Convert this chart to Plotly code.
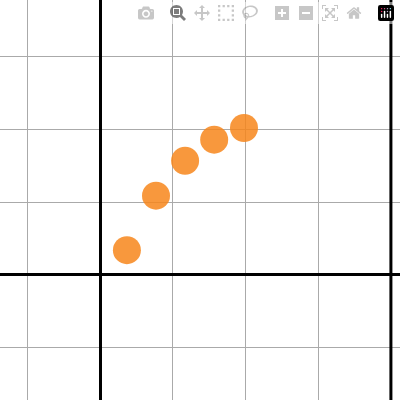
import plotly.graph_objects as go

x_vals = [0.37, 0.77, 1.17, 1.57, 1.98]
y_vals = [0.34, 1.09, 1.57, 1.86, 2.02]

fig = go.Figure(go.Scatter(
    x=x_vals, y=y_vals, mode="markers",
    marker=dict(size=28, color="#f7861b", opacity=0.85, line=dict(width=0)),
))

axis = dict(dtick=1, showgrid=True, gridcolor="#aaaaaa", gridwidth=1,
            zeroline=True, zerolinecolor="black", zerolinewidth=3,
            showticklabels=False, ticks="", showline=False)
fig.update_xaxes(range=[-1.375, 4.125], **axis)
fig.update_yaxes(range=[-1.72, 3.78], **axis)
fig.add_vline(x=4, line=dict(color="black", width=3))
fig.update_layout(width=400, height=400, margin=dict(l=0, r=0, t=0, b=0),
                  plot_bgcolor="white", paper_bgcolor="white", showlegend=False)
# the page body has an 8px margin by default; drop it so the chart fills the window
fig.write_html("out.html",
               post_script="document.body.style.margin='0';document.body.style.overflow='hidden';")
